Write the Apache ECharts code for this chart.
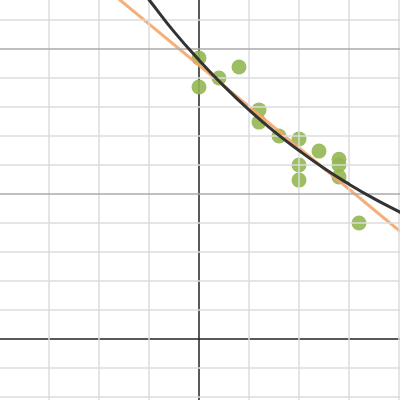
<!DOCTYPE html>
<html><head><meta charset="utf-8">
<script src="https://cdn.jsdelivr.net/npm/echarts@6/dist/echarts.min.js"></script>
<style>html,body{margin:0;padding:0;background:#fff}#c{width:400px;height:400px}</style>
</head><body><div id="c"></div>
<script>
const pointsX = [0, 0, 0.4, 0.8, 1.2, 1.2, 1.6, 2, 2, 2, 2.4, 2.8, 2.8, 2.8, 3.2];
const pointsY = [9.69, 8.69, 9.0, 9.38, 7.9, 7.48, 7.0, 6.9, 6.0, 5.48, 6.48, 6.2, 6.0, 5.59, 4.0];
const lineX = [-1.7, 4.1];
const lineY = [11.86, 3.6];
const curveX = [-1.1, -1, -0.5, 0, 0.5, 1, 1.5, 2, 2.5, 3, 3.5, 4, 4.1];
const curveY = [11.9, 11.7, 10.6, 9.62, 8.72, 7.9, 7.16, 6.5, 5.89, 5.34, 4.84, 4.39, 4.3];
const minorY = [-2, -1, 1, 2, 3, 4, 6, 7, 8, 9, 11];
const majorY = [5, 10];
const minorX = [-3, -2, -1, 1, 2, 3, 4];

const chart = echarts.init(document.getElementById('c'));
const zip = (a, b) => a.map((v, i) => [v, b[i]]);
const ax = (min, max) => ({type: 'value', min, max,
  axisLabel: {show: false}, axisTick: {show: false},
  axisLine: {show: true, onZero: true, lineStyle: {color: '#222', width: 1.5}},
  splitLine: {show: false}});
chart.setOption({
  animation: false,
  grid: {left: 0, right: 0, top: 0, bottom: 0},
  xAxis: ax(-3.98, 4.02),
  yAxis: ax(-2.103, 11.69),
  series: [
    {type: 'line', data: [], silent: true,
      markLine: {symbol: 'none', silent: true, label: {show: false},
        lineStyle: {color: '#ddd', width: 1.5, type: 'solid'},
        data: minorY.map(v => ({yAxis: v})).concat(minorX.map(v => ({xAxis: v})))}},
    {type: 'line', data: [], silent: true,
      markLine: {symbol: 'none', silent: true, label: {show: false},
        lineStyle: {color: '#aaa', width: 1.5, type: 'solid'},
        data: majorY.map(v => ({yAxis: v}))}},
    {type: 'scatter', data: zip(pointsX, pointsY), symbolSize: 15,
      itemStyle: {color: '#94b752', opacity: 0.9}, z: 3},
    {type: 'line', data: zip(lineX, lineY), showSymbol: false,
      lineStyle: {color: '#f5a66a', width: 3, opacity: 0.9}, z: 4},
    {type: 'line', data: zip(curveX, curveY), showSymbol: false, smooth: true,
      lineStyle: {color: '#333', width: 3}, z: 5}
  ]
});
</script></body></html>
